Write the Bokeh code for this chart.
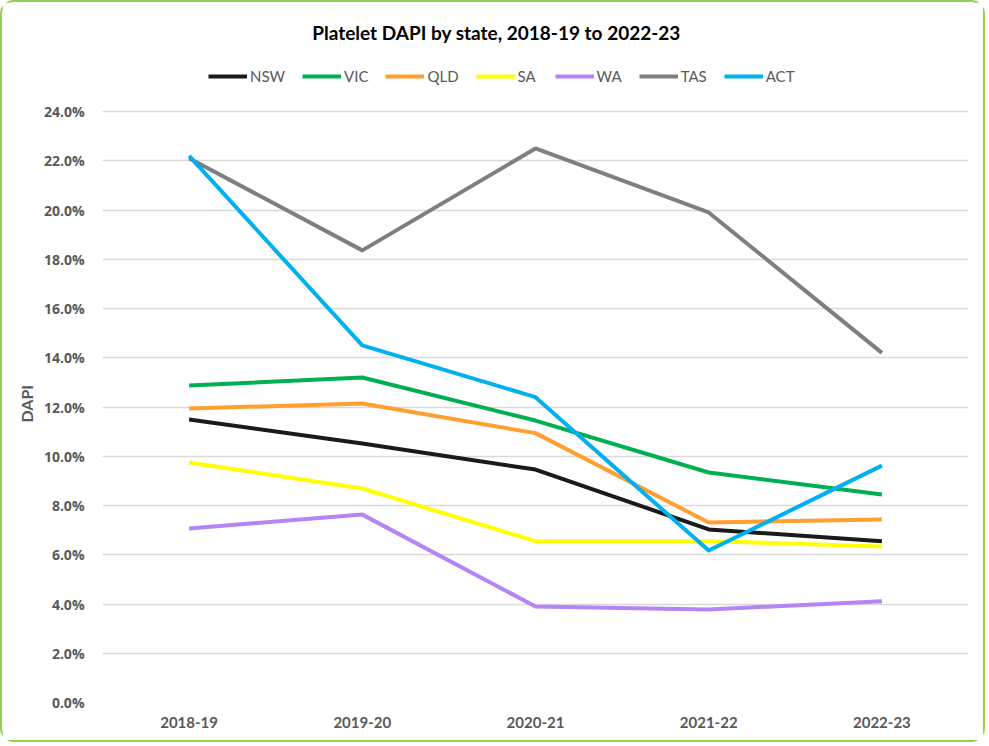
from bokeh.plotting import figure
from bokeh.models import (FactorRange, Range1d, FixedTicker, NumeralTickFormatter,
                          Legend, LegendItem, Label, Title)
from bokeh.embed import file_html
from bokeh.resources import INLINE

# Financial years shown on the x axis
years = ["2018-19", "2019-20", "2020-21", "2021-22", "2022-23"]

# Platelet DAPI per state (fraction of 1)
nsw = [0.1149, 0.1052, 0.0946, 0.0703, 0.0655]
vic = [0.1287, 0.1320, 0.1145, 0.0934, 0.0845]
qld = [0.1194, 0.1214, 0.1094, 0.0731, 0.0743]
sa = [0.0975, 0.0869, 0.0655, 0.0655, 0.0634]
wa = [0.0707, 0.0763, 0.0390, 0.0378, 0.0411]
tas = [0.2210, 0.1836, 0.2250, 0.1990, 0.1420]
act = [0.2220, 0.1450, 0.1240, 0.0617, 0.0962]

series = [
    ("NSW", nsw, "#1a1a1a"),
    ("VIC", vic, "#00B050"),
    ("QLD", qld, "#FF9F2F"),
    ("SA", sa, "#FFFF00"),
    ("WA", wa, "#B485F7"),
    ("TAS", tas, "#7F7F7F"),
    ("ACT", act, "#00B0F0"),
]

y_ticks = [i / 100 for i in range(0, 25, 2)]

LABEL_FONT = "Lato, sans-serif"
TICK_FONT = "Open Sans, sans-serif"

# The frame runs to the top of the canvas so the heading and key can sit
# inside it; the value axis proper spans 591 px of the 700 px frame.
FRAME_H = 700
AXIS_H = 591
y_top = 0.24 * FRAME_H / AXIS_H

p = figure(
    width=985, height=742,
    x_range=FactorRange(*years),
    y_range=Range1d(0, y_top),
    output_backend="svg",
    toolbar_location=None,
    min_border_left=100, min_border_right=19,
    min_border_top=0, min_border_bottom=42,
)
p.styles = {"border": "2px solid #92D050", "border-radius": "14px"}

heading = Label(
    x=394, y=670, x_units="screen", y_units="screen",
    text="Platelet DAPI by state, 2018-19 to 2022-23",
    text_align="center", text_baseline="middle",
    text_font=LABEL_FONT, text_font_size="19px", text_font_style="bold",
    text_color="#000000",
)
p.add_layout(heading)

items = []
for name, vals, col in series:
    r = p.line(years, vals, line_color=col, line_width=4, line_join="round")
    items.append(LegendItem(label=name, renderers=[r]))

# horizontal key between the heading and the grid
legend = Legend(items=items, orientation="horizontal", location=(106, 617))
legend.glyph_width = 39
legend.glyph_height = 16
legend.label_standoff = 3
legend.spacing = 17
legend.label_text_font = LABEL_FONT
legend.label_text_font_size = "15px"
legend.label_text_color = "#595959"
legend.border_line_color = None
legend.background_fill_alpha = 0
legend.margin = 0
legend.padding = 0
p.add_layout(legend)

# value-axis title, centred on the gridded part of the frame
y_title = Title(
    text="DAPI", align="left", offset=280,
    text_font=LABEL_FONT, text_font_size="16px", text_font_style="bold",
    text_color="#595959",
)
p.add_layout(y_title, "left")

p.yaxis.ticker = FixedTicker(ticks=y_ticks)
p.yaxis.formatter = NumeralTickFormatter(format="0.0%")
p.yaxis.major_label_text_font = TICK_FONT
p.yaxis.major_label_text_font_size = "14px"
p.yaxis.major_label_text_font_style = "bold"
p.yaxis.major_label_text_color = "#595959"
p.yaxis.major_label_standoff = 12

p.xaxis.major_label_text_font = LABEL_FONT
p.xaxis.major_label_text_font_size = "15px"
p.xaxis.major_label_text_font_style = "bold"
p.xaxis.major_label_text_color = "#595959"
p.xaxis.major_label_standoff = 8

for ax in (p.xaxis, p.yaxis):
    ax.axis_line_color = None
    ax.major_tick_line_color = None
    ax.minor_tick_line_color = None

p.xgrid.grid_line_color = None
p.ygrid.grid_line_color = "#D9D9D9"
p.ygrid.grid_line_width = 1.5
p.outline_line_color = None
p.background_fill_color = "white"
p.border_fill_color = "white"

open("out.html", "w").write(file_html(p, INLINE))
